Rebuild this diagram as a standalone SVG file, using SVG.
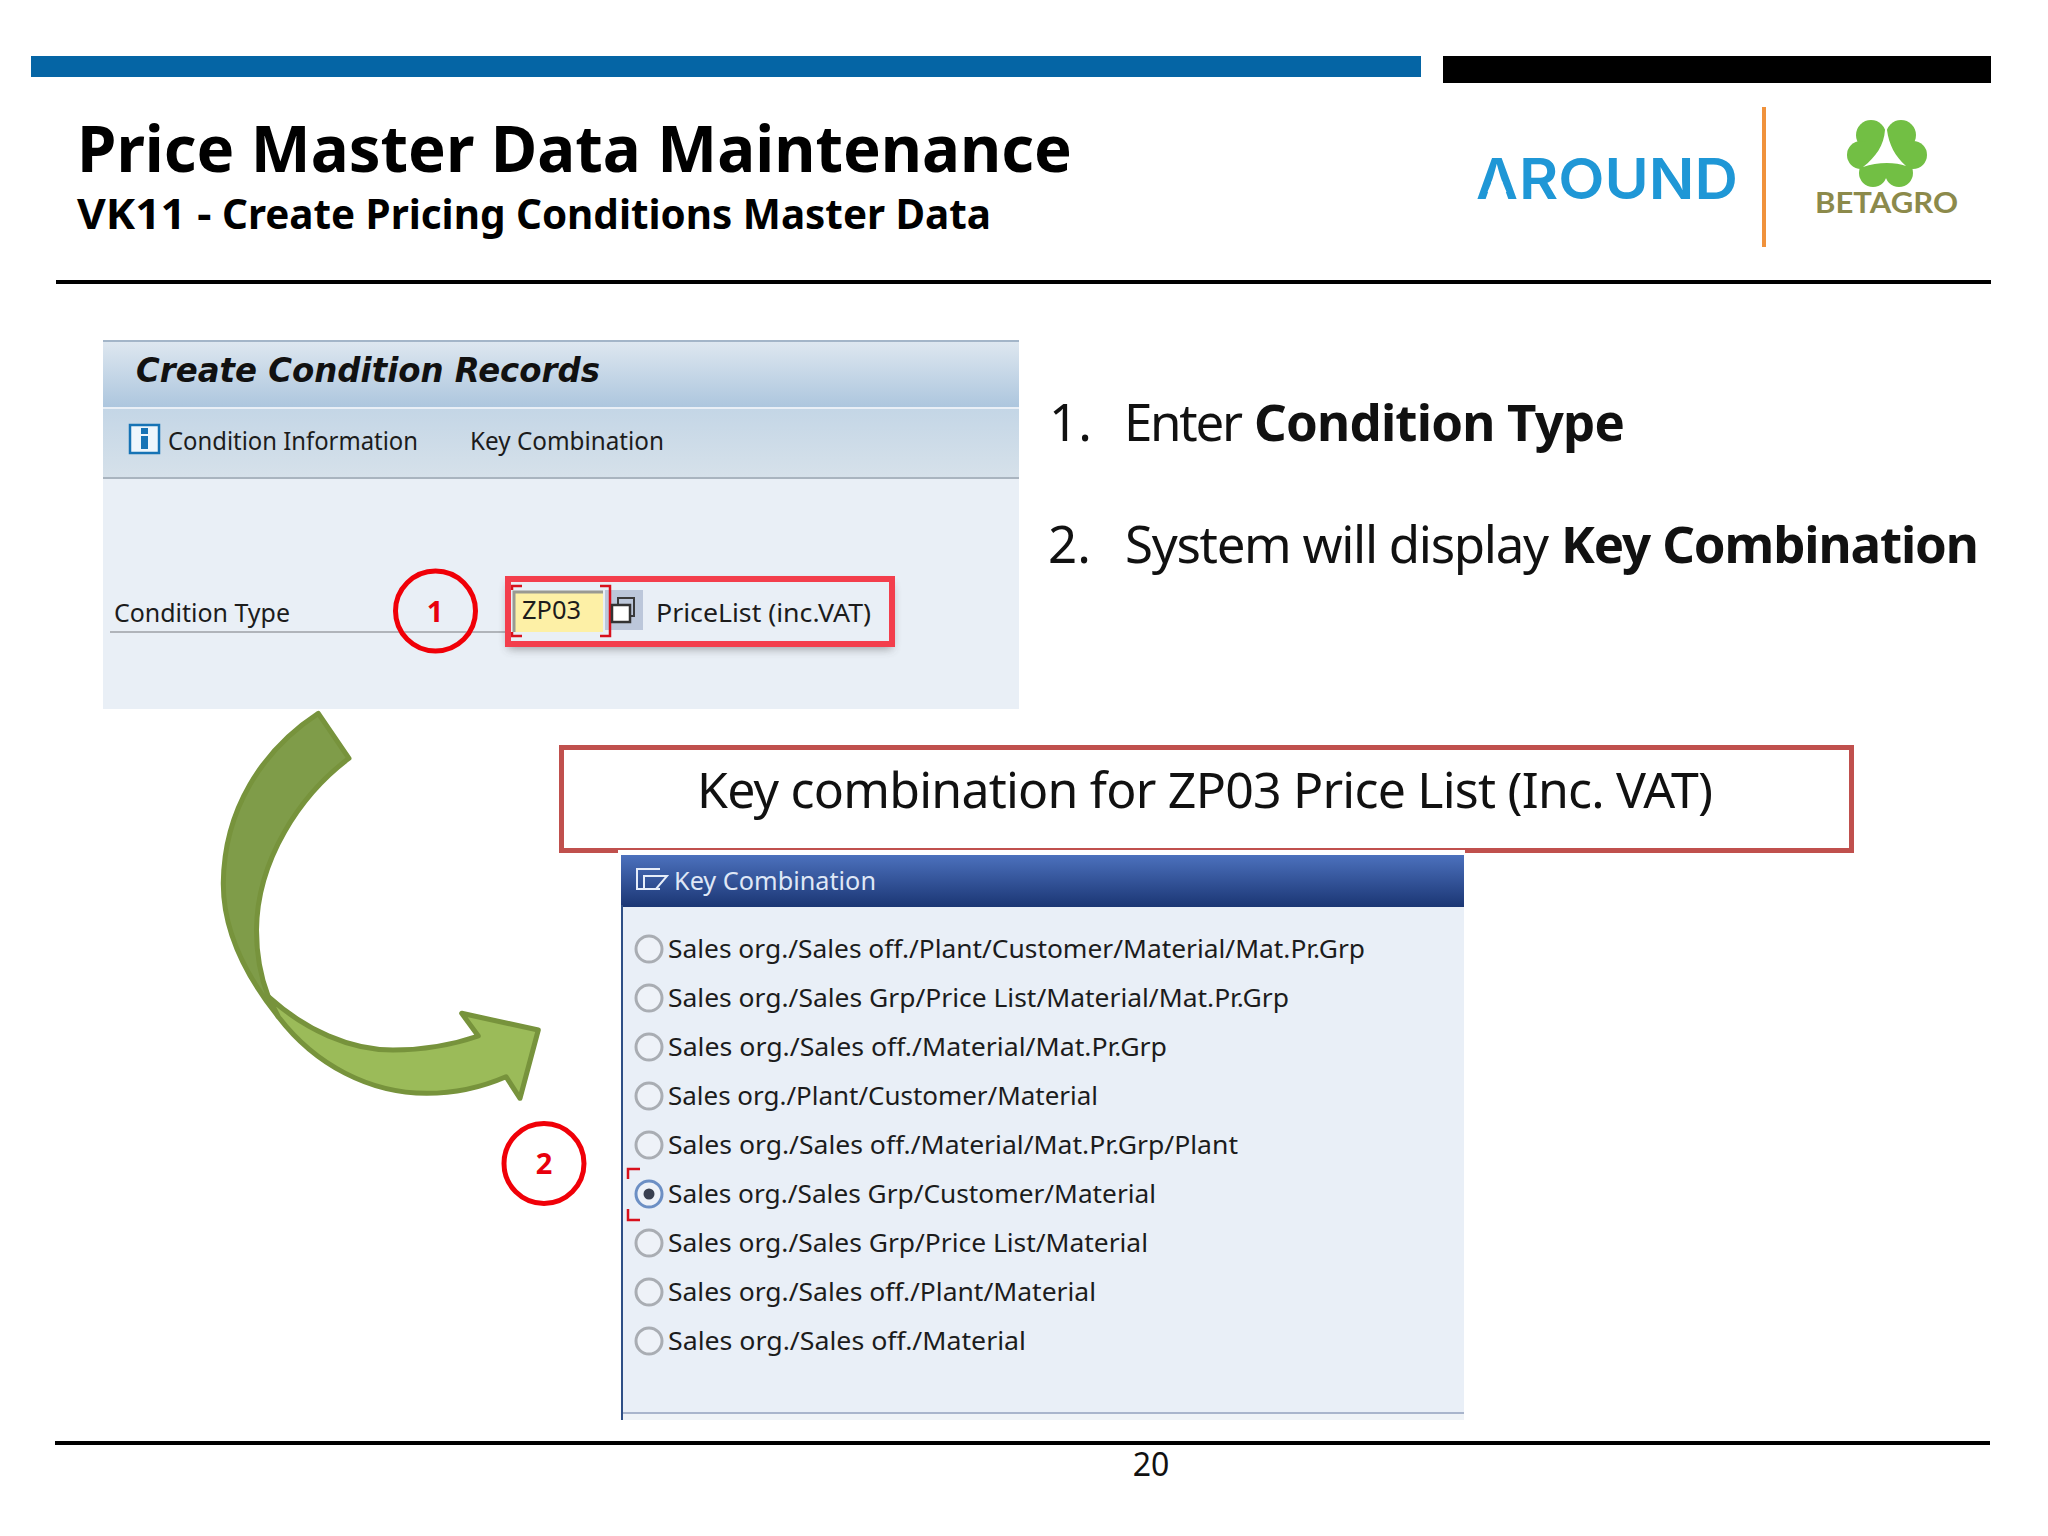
<svg xmlns="http://www.w3.org/2000/svg" width="2048" height="1536" viewBox="0 0 2048 1536">
<defs>
<style>
.ns{font-family:"Noto Sans","Open Sans","DejaVu Sans",sans-serif}
.b{font-weight:700}
.sap{font-family:"Noto Sans","DejaVu Sans",sans-serif;font-size:25px;fill:#1c1c1c}
.big{font-family:"Noto Sans","Open Sans",sans-serif;font-size:51px;fill:#111}
.num{font-family:"Noto Sans","DejaVu Sans",sans-serif;font-weight:700;font-size:29px;fill:#e8000d;text-anchor:middle}
.ring{fill:none;stroke:#f00008;stroke-width:5}
.radio{fill:#eef2f8;stroke:#a9adb3;stroke-width:3}
.mark{fill:none;stroke:#d8101c;stroke-width:2.5}
</style>
<linearGradient id="g1" x1="0" y1="0" x2="0" y2="1"><stop offset="0" stop-color="#dfe8f0"/><stop offset="1" stop-color="#adc6de"/></linearGradient>
<linearGradient id="g2" x1="0" y1="0" x2="0" y2="1"><stop offset="0" stop-color="#c4d6e6"/><stop offset="1" stop-color="#d6e1ea"/></linearGradient>
<linearGradient id="g3" x1="0" y1="0" x2="0" y2="1"><stop offset="0" stop-color="#4c71bd"/><stop offset="1" stop-color="#1b3674"/></linearGradient>
<filter id="sh" x="-10%" y="-30%" width="120%" height="170%"><feGaussianBlur stdDeviation="5"/></filter>
</defs>
<rect width="2048" height="1536" fill="#fff"/>

<g id="header">
<rect x="31" y="56" width="1390" height="21" fill="#0565a5"/>
<rect x="1443" y="56" width="548" height="27" fill="#000"/>
<rect x="56" y="280" width="1935" height="4" fill="#000"/>
<text class="ns b" x="77" y="172" font-size="65" textLength="995" lengthAdjust="spacingAndGlyphs" fill="#000">Price Master Data Maintenance</text>
<text class="ns b" y="229" font-size="41" fill="#000"><tspan x="77" textLength="146" lengthAdjust="spacingAndGlyphs">VK11 - </tspan><tspan x="222" textLength="769" lengthAdjust="spacingAndGlyphs">Create Pricing Conditions Master Data</tspan></text>
</g>

<g id="logos">
<rect x="1762" y="107" width="4" height="140" fill="#f0923c"/>
<text y="199" font-family="Inter,'Liberation Sans',sans-serif" font-weight="600" font-size="57" fill="#1f97d6"><tspan x="1476" textLength="42" lengthAdjust="spacingAndGlyphs">A</tspan><tspan x="1519" textLength="219" lengthAdjust="spacingAndGlyphs">ROUND</tspan></text>
<path d="M1492 181H1502L1506.500 192H1487.500Z" fill="#fff"/>
<g fill="#72bf44">
<circle cx="1871" cy="135" r="15"/><circle cx="1901" cy="135" r="15"/>
<circle cx="1861" cy="155" r="14"/><circle cx="1913" cy="155" r="14"/>
<circle cx="1873" cy="173" r="14"/><circle cx="1899" cy="173" r="14"/>
<rect x="1866" y="135" width="40" height="40"/>
</g>
<path d="M1886 120L1887 130C1889 145 1895 156 1906 166C1895 162 1877 162 1863 167C1876 157 1884 145 1885 130Z" fill="#fff"/>
<text x="1815" y="213" font-family="Lato,'Liberation Sans',sans-serif" font-weight="700" font-size="28" textLength="143" lengthAdjust="spacingAndGlyphs" fill="#8c8a4b">BETAGRO</text>
</g>

<g id="condition-panel">
<rect x="103" y="340" width="916" height="369" fill="#e9eff6"/>
<rect x="103" y="340" width="916" height="67" fill="url(#g1)"/>
<rect x="103" y="340" width="916" height="2" fill="#a3b5c8"/>
<rect x="103" y="409" width="916" height="69" fill="url(#g2)"/>
<rect x="103" y="477" width="916" height="2" fill="#a9b4bf"/>
<text x="136" y="382" font-family="'DejaVu Sans',sans-serif" font-weight="700" font-style="italic" font-size="33" textLength="464" lengthAdjust="spacingAndGlyphs" fill="#111">Create Condition Records</text>
<rect x="130" y="425" width="29" height="28" fill="#eef6fc" stroke="#1673b5" stroke-width="2.5"/>
<rect x="141" y="428" width="7" height="6" fill="#1673b5"/>
<rect x="141" y="436" width="7" height="13" fill="#1673b5"/>
<text class="sap" x="168" y="450" textLength="250" lengthAdjust="spacingAndGlyphs">Condition Information</text>
<text class="sap" x="470" y="450" textLength="194" lengthAdjust="spacingAndGlyphs">Key Combination</text>
<text class="sap" x="114" y="622" textLength="176" lengthAdjust="spacingAndGlyphs">Condition Type</text>
<rect x="110" y="631" width="396" height="2" fill="#b0b4ba"/>
</g>

<g id="condition-field">
<rect x="508" y="579" width="384" height="65" fill="#3c3c3c" opacity=".45" filter="url(#sh)" transform="translate(0 5)"/>
<rect x="508" y="579" width="384" height="65" fill="#e9eff6"/>
<rect x="605" y="590" width="38" height="40" fill="#bcc7da"/>
<rect x="514" y="592" width="89" height="40" fill="#fdf0a6"/>
<path d="M514 632V592H603" fill="none" stroke="#9a9a92" stroke-width="3"/>
<path class="mark" d="M522 586H512V590M512 632V636H522M600 586H610V636H600"/>
<rect x="618" y="598" width="16" height="18" fill="none" stroke="#3a3a3a" stroke-width="2"/>
<rect x="612" y="605" width="18" height="17" fill="#fff" stroke="#333" stroke-width="2.5"/>
<text class="sap" x="522" y="619" textLength="59" lengthAdjust="spacingAndGlyphs">ZP03</text>
<text class="sap" x="656" y="622" textLength="215" lengthAdjust="spacingAndGlyphs">PriceList (inc.VAT)</text>
<rect x="508" y="579" width="384" height="65" fill="none" stroke="#f33e4c" stroke-width="6"/>
</g>

<g id="step-1"><circle class="ring" cx="435.5" cy="611" r="40"/><text class="num" x="435" y="622">1</text></g>
<g id="step-2"><circle class="ring" cx="544" cy="1163.500" r="40"/><text class="num" x="544" y="1174">2</text></g>

<g id="instructions">
<text class="big" x="1049" y="441">1.</text>
<text class="big" y="441"><tspan x="1124" textLength="130">Enter </tspan><tspan class="b" x="1254" textLength="371">Condition Type</tspan></text>
<text class="big" x="1048" y="563">2.</text>
<text class="big" y="563"><tspan x="1125" textLength="436">System will display </tspan><tspan class="b" x="1561" textLength="418">Key Combination</tspan></text>
</g>

<g id="key-title">
<rect x="561.500" y="747.500" width="1290" height="103" fill="#fff" stroke="#c0504d" stroke-width="5"/>
<text class="big" x="697" y="808" style="font-size:50px" textLength="1016">Key combination for ZP03 Price List (Inc. VAT)</text>
</g>

<g id="key-dialog">
<rect x="618" y="850" width="847" height="570" fill="#fff"/>
<rect x="621" y="906" width="843" height="514" fill="#e9eff7"/>
<rect x="621" y="855" width="843" height="52" fill="url(#g3)"/>
<rect x="621" y="1412" width="843" height="2" fill="#a9b5cc"/>
<rect x="621" y="1414" width="843" height="6" fill="#eff3f7"/>
<rect x="621" y="905" width="2" height="515" fill="#2f4f86"/>
<path d="M660 869H637V889H660M644 876H667L656 889H644Z" fill="none" stroke="#e6edf9" stroke-width="2"/>
<text x="674" y="890" font-family="'Noto Sans',sans-serif" font-size="25" textLength="202" lengthAdjust="spacingAndGlyphs" fill="#dfe7f6">Key Combination</text>
<g id="opt-1"><circle class="radio" cx="649" cy="949" r="13"/><text class="sap" x="668" y="958" textLength="697" lengthAdjust="spacingAndGlyphs">Sales org./Sales off./Plant/Customer/Material/Mat.Pr.Grp</text></g>
<g id="opt-2"><circle class="radio" cx="649" cy="998" r="13"/><text class="sap" x="668" y="1007" textLength="621" lengthAdjust="spacingAndGlyphs">Sales org./Sales Grp/Price List/Material/Mat.Pr.Grp</text></g>
<g id="opt-3"><circle class="radio" cx="649" cy="1047" r="13"/><text class="sap" x="668" y="1056" textLength="499" lengthAdjust="spacingAndGlyphs">Sales org./Sales off./Material/Mat.Pr.Grp</text></g>
<g id="opt-4"><circle class="radio" cx="649" cy="1096" r="13"/><text class="sap" x="668" y="1105" textLength="430" lengthAdjust="spacingAndGlyphs">Sales org./Plant/Customer/Material</text></g>
<g id="opt-5"><circle class="radio" cx="649" cy="1145" r="13"/><text class="sap" x="668" y="1154" textLength="570" lengthAdjust="spacingAndGlyphs">Sales org./Sales off./Material/Mat.Pr.Grp/Plant</text></g>
<g id="opt-6"><circle class="radio" cx="649" cy="1194" r="13" style="stroke:#6c8fc4"/><circle cx="649" cy="1194" r="5.500" fill="#3a4050"/><text class="sap" x="668" y="1203" textLength="488" lengthAdjust="spacingAndGlyphs">Sales org./Sales Grp/Customer/Material</text>
<path class="mark" d="M640 1169H628V1179M628 1209V1220H640"/></g>
<g id="opt-7"><circle class="radio" cx="649" cy="1243" r="13"/><text class="sap" x="668" y="1252" textLength="480" lengthAdjust="spacingAndGlyphs">Sales org./Sales Grp/Price List/Material</text></g>
<g id="opt-8"><circle class="radio" cx="649" cy="1292" r="13"/><text class="sap" x="668" y="1301" textLength="428" lengthAdjust="spacingAndGlyphs">Sales org./Sales off./Plant/Material</text></g>
<g id="opt-9"><circle class="radio" cx="649" cy="1341" r="13"/><text class="sap" x="668" y="1350" textLength="358" lengthAdjust="spacingAndGlyphs">Sales org./Sales off./Material</text></g>
</g>

<g id="connectors" stroke="#77933c" stroke-width="5" stroke-linejoin="round">
<path d="M318.300 713.300L349 758.300C300 795 257 860 256.500 930C256.500 955 261 978 268.300 996.700L278.300 1016.700C245 975 223 930 223.300 883C224 810 262 750 318.300 713.300Z" fill="#7f9c49"/>
<path d="M268.300 996.700C305 1030 350 1050 393 1050C425 1050 452 1045 478.300 1036L461.700 1013.300L538.300 1030L520 1098.300L506 1076.700C480 1088 455 1093.300 426.700 1093.300C370 1093.300 315 1065 278.300 1016.700Z" fill="#9bbb59"/>
</g>

<g id="footer">
<rect x="55" y="1441" width="1935" height="4" fill="#000"/>
<text class="ns" x="1151" y="1476" font-size="32" text-anchor="middle" fill="#111">20</text>
</g>
</svg>
